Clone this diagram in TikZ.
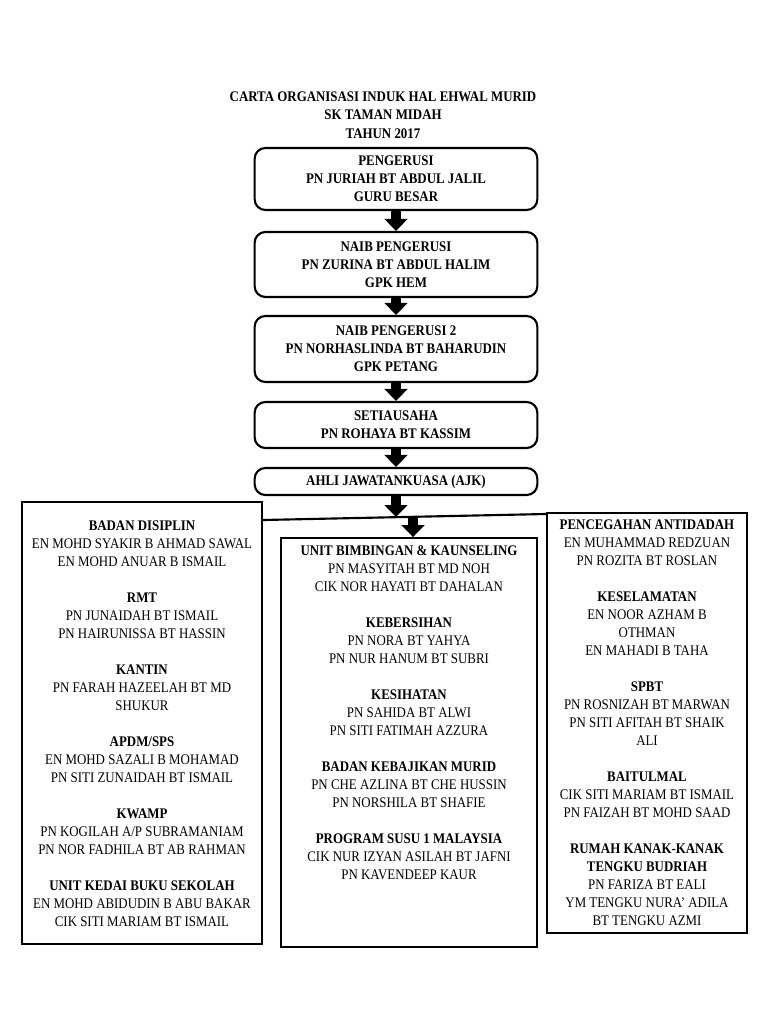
\documentclass[tikz,border=0pt]{standalone}
\usepackage{fontspec}
\setmainfont[FakeStretch=0.88]{Liberation Serif}
\usetikzlibrary{positioning,arrows.meta}
\newcommand\tajuk[1]{\textbf{#1}}
\begin{document}
\begin{tikzpicture}[x=0.75pt,y=-0.75pt,
  font=\fontsize{11}{13.5}\selectfont,
  topbox/.style={draw, line width=1.6pt, rounded corners=8pt, minimum width=212pt,
    align=center, font=\fontsize{11}{13.5}\selectfont\bfseries},
  unitbox/.style={draw, line width=1.4pt, inner sep=0pt},
  unittext/.style={align=center, inner sep=0pt},
  blockarrow/.style={line width=7.5pt, -{Triangle[length=9pt,width=17pt]}}]
\useasboundingbox (0,0) rectangle (768,1024);

% title
\node[align=center, font=\fontsize{11}{13.8}\selectfont\bfseries] (title) at (383,115)
  {CARTA ORGANISASI INDUK HAL EHWAL MURID\\SK TAMAN MIDAH\\TAHUN 2017};

% chain of office bearers
\node[topbox, minimum height=46.5pt] (pengerusi) at (396,179)
  {PENGERUSI\\PN JURIAH BT ABDUL JALIL\\GURU BESAR};
\node[topbox, minimum height=48.75pt] (naib) at (396,264.5)
  {NAIB PENGERUSI\\PN ZURINA BT ABDUL HALIM\\GPK HEM};
\node[topbox, minimum height=49.5pt] (naibdua) at (396,349)
  {NAIB PENGERUSI 2\\PN NORHASLINDA BT BAHARUDIN\\GPK PETANG};
\node[topbox, minimum height=34.5pt] (setiausaha) at (396,425)
  {SETIAUSAHA\\PN ROHAYA BT KASSIM};
\node[topbox, minimum height=20.25pt] (ajk) at (396,481.5)
  {AHLI JAWATANKUASA (AJK)};

\draw[blockarrow] (pengerusi) -- (naib);
\draw[blockarrow] (naib) -- (naibdua);
\draw[blockarrow] (naibdua) -- (setiausaha);
\draw[blockarrow] (setiausaha) -- (ajk);

% unit boxes
\node[unitbox, minimum width=180pt, minimum height=331.5pt] (kiri) at (142,723) {};
\node[unitbox, minimum width=192pt, minimum height=306.75pt] (tengah) at (409,742.5) {};
\node[unitbox, minimum width=150pt, minimum height=315pt] (kanan) at (647,723) {};

\coordinate (garisKiri) at (kiri.east |- 0,520);
\coordinate (garisKanan) at (kanan.west |- 0,514);
\draw[line width=1.6pt] (garisKiri) -- (garisKanan);
\coordinate (hujung) at (396,517);
\coordinate (cabang) at (413,517);
\draw[blockarrow] (ajk) -- (hujung);
\draw[blockarrow] (cabang) -- (cabang |- tengah.north);

\node[unittext] (teksKiri) at (142,723.5) {%
  \tajuk{BADAN DISIPLIN}\\EN MOHD SYAKIR B AHMAD SAWAL\\EN MOHD ANUAR B ISMAIL\\[13.5pt]
  \tajuk{RMT}\\PN JUNAIDAH BT ISMAIL\\PN HAIRUNISSA BT HASSIN\\[13.5pt]
  \tajuk{KANTIN}\\PN FARAH HAZEELAH BT MD\\SHUKUR\\[13.5pt]
  \tajuk{APDM/SPS}\\EN MOHD SAZALI B MOHAMAD\\PN SITI ZUNAIDAH BT ISMAIL\\[13.5pt]
  \tajuk{KWAMP}\\PN KOGILAH A/P SUBRAMANIAM\\PN NOR FADHILA BT AB RAHMAN\\[13.5pt]
  \tajuk{UNIT KEDAI BUKU SEKOLAH}\\EN MOHD ABIDUDIN B ABU BAKAR\\CIK SITI MARIAM BT ISMAIL};

\node[unittext] (teksTengah) at (409,712.5) {%
  \tajuk{UNIT BIMBINGAN \& KAUNSELING}\\PN MASYITAH BT MD NOH\\CIK NOR HAYATI BT DAHALAN\\[13.5pt]
  \tajuk{KEBERSIHAN}\\PN NORA BT YAHYA\\PN NUR HANUM BT SUBRI\\[13.5pt]
  \tajuk{KESIHATAN}\\PN SAHIDA BT ALWI\\PN SITI FATIMAH AZZURA\\[13.5pt]
  \tajuk{BADAN KEBAJIKAN MURID}\\PN CHE AZLINA BT CHE HUSSIN\\PN NORSHILA BT SHAFIE\\[13.5pt]
  \tajuk{PROGRAM SUSU 1 MALAYSIA}\\CIK NUR IZYAN ASILAH BT JAFNI\\PN KAVENDEEP KAUR};

\node[unittext] (teksKanan) at (647,722.5) {%
  \tajuk{PENCEGAHAN ANTIDADAH}\\EN MUHAMMAD REDZUAN\\PN ROZITA BT ROSLAN\\[13.5pt]
  \tajuk{KESELAMATAN}\\EN NOOR AZHAM B\\OTHMAN\\EN MAHADI B TAHA\\[13.5pt]
  \tajuk{SPBT}\\PN ROSNIZAH BT MARWAN\\PN SITI AFITAH BT SHAIK\\ALI\\[13.5pt]
  \tajuk{BAITULMAL}\\CIK SITI MARIAM BT ISMAIL\\PN FAIZAH BT MOHD SAAD\\[13.5pt]
  \tajuk{RUMAH KANAK-KANAK}\\\tajuk{TENGKU BUDRIAH}\\PN FARIZA BT EALI\\YM TENGKU NURA’ ADILA\\BT TENGKU AZMI};
\end{tikzpicture}
\end{document}
